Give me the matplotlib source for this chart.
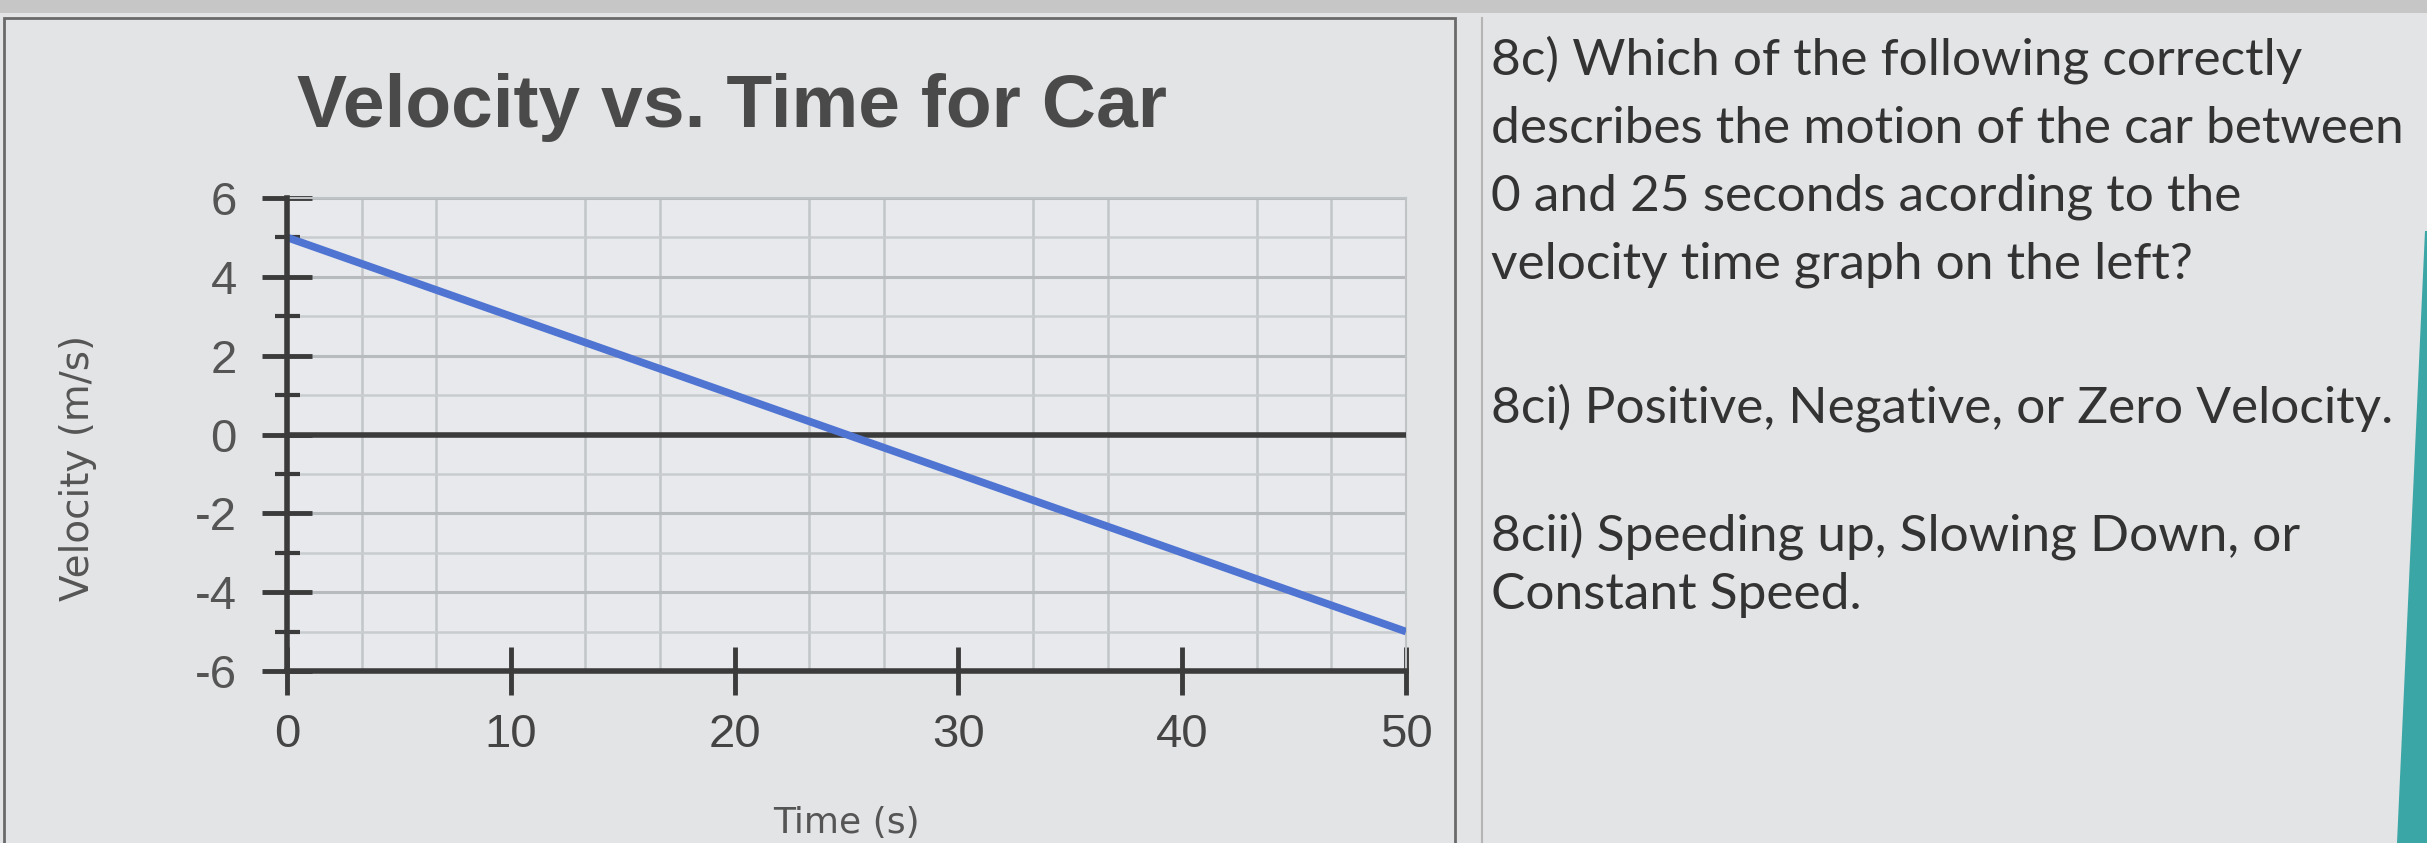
import numpy as np
import matplotlib
matplotlib.use("Agg")
import matplotlib.pyplot as plt
from matplotlib.patches import Rectangle, Polygon

plt.rcParams["axes.unicode_minus"] = False

# data
time_s = [0, 50]
velocity_ms = [5, -5]
x_ticks = [0, 10, 20, 30, 40, 50]
y_ticks = [-6, -4, -2, 0, 2, 4, 6]

question_lines = [
    "8c) Which of the following correctly",
    "describes the motion of the car between",
    "0 and 25 seconds acording to the",
    "velocity time graph on the left?",
    "8ci) Positive, Negative, or Zero Velocity.",
    "8cii) Speeding up, Slowing Down, or",
    "Constant Speed.",
]
question_baselines = [74, 143, 210, 279, 422, 551, 609]  # px from top

W, H = 2427, 843
fig = plt.figure(figsize=(W / 100, H / 100), dpi=100)
fig.patch.set_facecolor("#e3e4e6")

# screen bezel / frame decorations
fig.add_artist(Rectangle((0, 1 - 13 / H), 1, 13 / H, transform=fig.transFigure,
                         facecolor="#c6c6c6", edgecolor="none"))
fig.add_artist(Rectangle((4 / W, -0.05), (1455 - 4) / W, 1.05 - 18 / H,
                         transform=fig.transFigure, facecolor="none",
                         edgecolor="#6a6a6a", lw=2))
fig.add_artist(plt.Line2D([1482 / W, 1482 / W], [0, 1 - 18 / H],
                          transform=fig.transFigure, color="#b5b5b5", lw=1.5))
fig.add_artist(Polygon([(2425 / W, 1 - 231 / H), (1, 1 - 231 / H), (1, 0), (2397 / W, 0)],
                       closed=True, transform=fig.transFigure,
                       facecolor="#3aa6a6", edgecolor="none"))

ax = fig.add_axes([287 / W, 1 - 671 / H, (1406 - 287) / W, (671 - 198) / H])
ax.set_facecolor("#e7e9ec")

ax.plot(time_s, velocity_ms, color="#4f74d2", lw=5.5, solid_capstyle="butt", zorder=4)
ax.axhline(0, color="#3b3b3b", lw=4, zorder=3)

ax.set_xlim(0, 50)
ax.set_ylim(-6, 6)
ax.set_xticks(x_ticks)
ax.set_yticks(y_ticks)
ax.set_xticks(np.arange(0, 50.01, 10 / 3), minor=True)
ax.set_yticks(np.arange(-6, 7, 1), minor=True)

ax.grid(True, axis="x", which="minor", color="#c3c6c9", lw=1.8)
ax.grid(True, axis="y", which="minor", color="#c9ccce", lw=1.8)
ax.grid(True, axis="y", which="major", color="#b8bbbe", lw=2.2)
ax.set_axisbelow(True)

for side in ["top", "right"]:
    ax.spines[side].set_color("#c0c3c6")
    ax.spines[side].set_linewidth(1.5)
for side in ["left", "bottom"]:
    ax.spines[side].set_color("#3b3b3b")
    ax.spines[side].set_linewidth(4)
    ax.spines[side].set_zorder(5)

tick_font = ["Liberation Sans Narrow", "Liberation Sans", "DejaVu Sans"]
ax.tick_params(axis="y", which="major", direction="inout", length=36, width=3.5,
               color="#3b3b3b", pad=18, labelsize=34, labelcolor="#555555")
ax.tick_params(axis="y", which="minor", direction="inout", length=18, width=3,
               color="#3b3b3b")
ax.tick_params(axis="x", which="major", direction="inout", length=34, width=3.5,
               color="#3b3b3b", pad=13, labelsize=34, labelcolor="#444444")
ax.tick_params(axis="x", which="minor", length=0)
for lab in ax.get_xticklabels() + ax.get_yticklabels():
    lab.set_family(tick_font)
for t in ax.xaxis.get_major_ticks() + ax.yaxis.get_major_ticks() + ax.yaxis.get_minor_ticks():
    t.tick1line.set_zorder(6)

# titles and axis labels
fig.text(732 / W, 1 - 127 / H, "Velocity vs. Time for Car", ha="center", va="baseline",
         fontsize=54, fontweight="bold", color="#4a4a4a",
         family=["Liberation Sans", "DejaVu Sans"])
fig.text(78 / W, 1 - 468 / H, "Velocity (m/s)", rotation=90, ha="center", va="center",
         fontsize=28, color="#555555", family="DejaVu Sans")
fig.text(846 / W, 3 / H, "Time (s)", ha="center", va="bottom",
         fontsize=26, color="#555555", family="DejaVu Sans")

# question text on the right
for line, yb in zip(question_lines, question_baselines):
    fig.text(1491 / W, 1 - yb / H, line, ha="left", va="baseline", fontsize=37,
             color="#333333", family=["Lato", "DejaVu Sans"])

fig.savefig("out.png", dpi=100, facecolor=fig.get_facecolor())
